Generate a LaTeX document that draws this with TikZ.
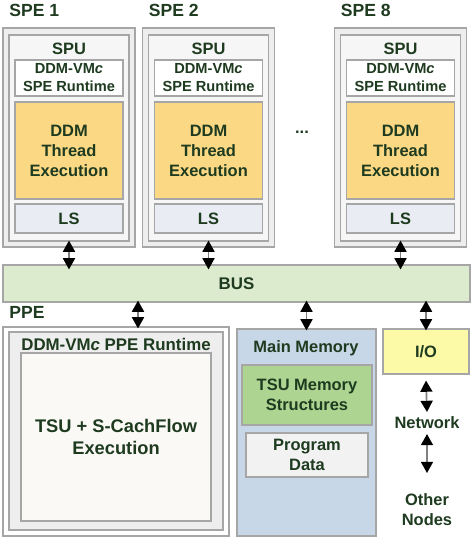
\documentclass[tikz,border=0pt]{standalone}
\usepackage{fontspec}
\setmainfont{Liberation Sans}
\usetikzlibrary{arrows.meta,positioning}

\definecolor{txtgreen}{HTML}{1E3B20}
\definecolor{boxline}{HTML}{A6A6A6}
\definecolor{spebg}{HTML}{EEEEEE}
\definecolor{spubg}{HTML}{F6F6F6}
\definecolor{threadbg}{HTML}{FBD884}
\definecolor{lsbg}{HTML}{E9EDF3}
\definecolor{busbg}{HTML}{DCEBCD}
\definecolor{membg}{HTML}{C7D7E7}
\definecolor{tsumembg}{HTML}{ADD591}
\definecolor{progbg}{HTML}{F2F2F2}
\definecolor{iobg}{HTML}{FCF9A7}
\definecolor{ppeexecbg}{HTML}{FBF9F5}

\newcommand{\fsz}[2]{\fontsize{#1}{#2}\selectfont}

\begin{document}
\begin{tikzpicture}
\tikzset{
    every node/.style={text=txtgreen, font=\bfseries\fsz{11.7}{14.2}, align=center},
    box/.style={rectangle, draw=boxline, line width=0.8pt, inner sep=0pt},
    outerbox/.style={box, fill=spebg},
    innerbox/.style={box, fill=spubg},
    rtbox/.style={box, fill=white, font=\bfseries\fsz{10.4}{12.8}, minimum width=2.7cm, minimum height=0.9cm},
    threadbox/.style={box, fill=threadbg, minimum width=2.7cm, minimum height=2.425cm},
    lsbox/.style={box, fill=lsbg, minimum width=2.7cm, minimum height=0.725cm},
    title/.style={anchor=base west, font=\bfseries\fsz{12.5}{15}},
    dblarrow/.style={{Triangle[width=3mm,length=2.8mm,color=black]}-{Triangle[width=3mm,length=2.8mm,color=black]},
        draw=gray, line width=1.2pt}
}
\useasboundingbox (0,0) rectangle (11.85,-13.475);

  % bus
  \node[box, fill=busbg, minimum width=11.675cm, minimum height=0.925cm, font=\bfseries\fsz{12}{14}] (bus) at (5.9125,-7.0875) {BUS};

  % SPEs
  \foreach \n/\x in {1/1.725, 2/5.2125, 8/10.0125} {
    \node[outerbox, minimum width=3.3cm, minimum height=5.475cm] (spe\n) at (\x,-3.4375) {};
    \node[title] (spetitle\n) at ([shift={(0.05,0.275)}]spe\n.north west) {SPE \n};
    \node[innerbox, minimum width=3cm, minimum height=5.15cm] (spu\n) at (\x,-3.45) {};
    \node (spulabel\n) at (\x,-1.225) {SPU};
    \node[rtbox] (rt\n) at (\x,-1.95) {DDM-VM\textit{c}\\SPE Runtime};
    \node[threadbox] (thread\n) at (\x,-3.7625) {DDM\\Thread\\Execution};
    \node[lsbox] (ls\n) at (\x,-5.4625) {LS};
    \draw[dblarrow, shorten <=-0.175cm, shorten >=-0.125cm] (spe\n.south) -- (spe\n.south |- bus.north);
  }
  \node (dots) at (7.55,-3.3) {...};

  % PPE
  \node[box, fill=white, minimum width=5.65cm, minimum height=5.225cm] (ppe) at (2.9,-10.7875) {};
  \node[title] (ppetitle) at ([shift={(0.05,0.2)}]ppe.north west) {PPE};
  \node[box, fill=spebg, minimum width=5.35cm, minimum height=4.95cm] (pperun) at (2.9,-10.775) {};
  \node[font=\bfseries\fsz{12}{14}] (pperunlabel) at (2.9,-8.6) {DDM-VM\textit{c} PPE Runtime};
  \node[box, fill=ppeexecbg, minimum width=4.75cm, minimum height=4.2cm, font=\bfseries\fsz{13}{15.8}] (tsu) at (2.9,-10.925) {TSU + S-CachFlow\\Execution};
  \draw[dblarrow, shorten <=-0.05cm, shorten >=-0.05cm] ([xshift=0.55cm]ppe.north) -- ([xshift=0.55cm]ppe.north |- bus.south);

  % main memory
  \node[box, fill=membg, minimum width=3.475cm, minimum height=5.175cm] (mem) at (7.6625,-10.8125) {};
  \node (memlabel) at (7.65,-8.7) {Main Memory};
  \node[box, fill=tsumembg, minimum width=3.25cm, minimum height=1.5cm] (tsumem) at (7.675,-9.875) {TSU Memory\\Structures};
  \node[box, fill=progbg, minimum width=3.05cm, minimum height=1.1cm] (prog) at (7.675,-11.375) {Program\\Data};
  \draw[dblarrow, shorten <=-0.05cm, shorten >=-0.05cm] (mem.north) -- (mem.north |- bus.south);

  % I/O and network
  \node[box, fill=iobg, minimum width=2.15cm, minimum height=1.125cm] (io) at (10.65,-8.7875) {I/O};
  \node (net) at (10.675,-10.575) {Network};
  \node (others) at (10.675,-12.75) {Other\\Nodes};
  \draw[dblarrow, shorten <=-0.05cm, shorten >=-0.05cm] (io.north) -- (io.north |- bus.south);
  \draw[dblarrow] ([yshift=-0.15cm]io.south) -- (net.north);
  \draw[dblarrow] (net.south) -- ([yshift=0.4cm]others.north);
\end{tikzpicture}
\end{document}
